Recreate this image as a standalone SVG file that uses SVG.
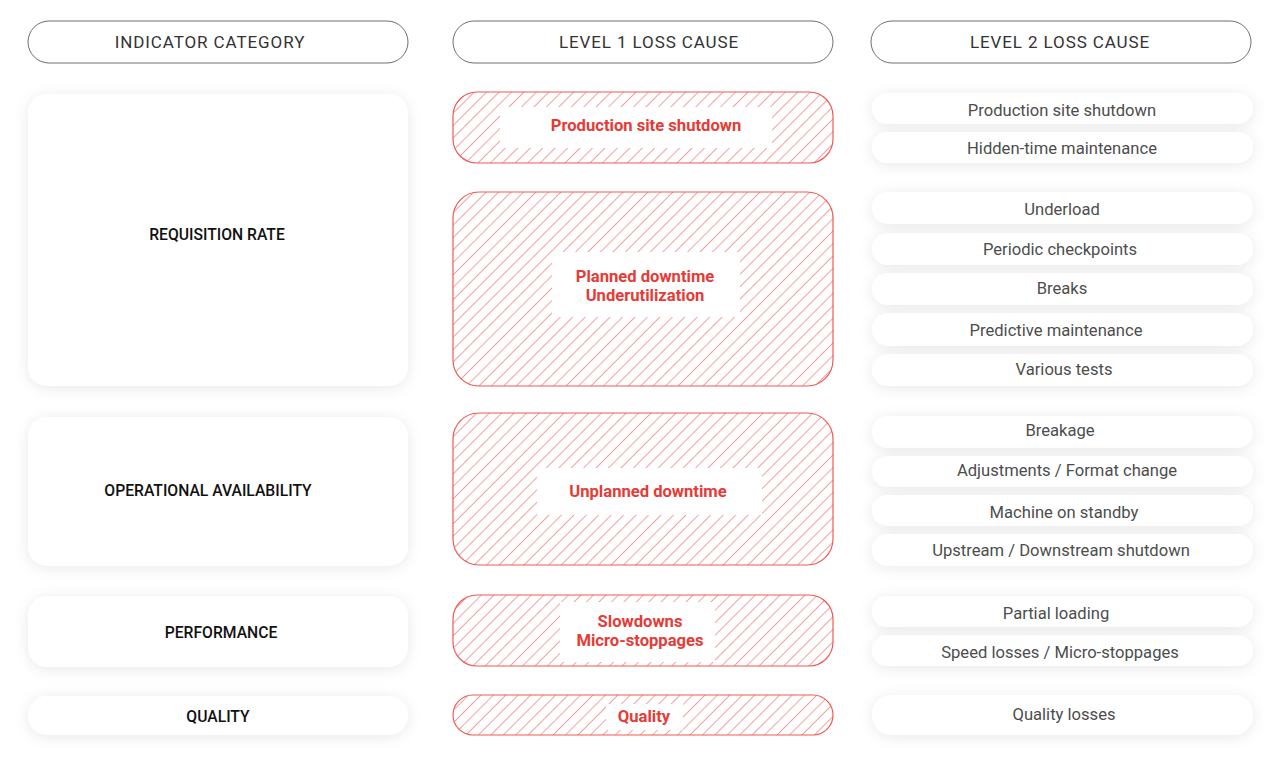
<svg xmlns="http://www.w3.org/2000/svg" width="1280" height="757" viewBox="0 0 1280 757">
<defs>
<pattern id="hatch" patternUnits="userSpaceOnUse" width="8.8" height="10" patternTransform="rotate(45)">
<line x1="4.4" y1="0" x2="4.4" y2="10" stroke="#f39591" stroke-width="0.9"/>
</pattern>
<filter id="sh" x="-20%" y="-40%" width="140%" height="180%">
<feDropShadow dx="0" dy="2" stdDeviation="7" flood-color="#000" flood-opacity="0.09"/>
</filter>
<style>
.hdr{fill:#fff;stroke:#6f6f6a;stroke-width:1}
.hdrt{font-family:Roboto,"Liberation Sans",sans-serif;font-size:17px;fill:#333;letter-spacing:0.9px;text-anchor:middle;dominant-baseline:central}
.cat{fill:#fff;filter:url(#sh)}
.catt{font-family:Roboto,"Liberation Sans",sans-serif;font-size:15.7px;font-weight:500;fill:#111;text-anchor:middle;dominant-baseline:central}
.l1{fill:url(#hatch);stroke:#ee5a55;stroke-width:1.2}
.mask{fill:#fff}
.l1t{font-family:Roboto,"Liberation Sans",sans-serif;font-size:16.6px;font-weight:700;fill:#e63b36;text-anchor:middle;dominant-baseline:central}
.l2{fill:#fff;filter:url(#sh)}
.l2t{font-family:Roboto,"Liberation Sans",sans-serif;font-size:16.6px;fill:#4d4d4d;text-anchor:middle;dominant-baseline:central}
</style>
</defs>
<rect width="1280" height="757" fill="#fff"/>

<g id="headers">
<g id="h-indicator"><rect class="hdr" x="28" y="21" width="380" height="42" rx="21"/><text class="hdrt" x="210" y="42">INDICATOR CATEGORY</text></g>
<g id="h-level1"><rect class="hdr" x="453" y="21" width="380" height="42" rx="21"/><text class="hdrt" x="649" y="42">LEVEL 1 LOSS CAUSE</text></g>
<g id="h-level2"><rect class="hdr" x="871" y="21" width="380" height="42" rx="21"/><text class="hdrt" x="1060" y="42">LEVEL 2 LOSS CAUSE</text></g>
</g>

<g id="categories">
<g id="c-requisition"><rect class="cat" x="28" y="94" width="380" height="292" rx="20"/><text class="catt" x="217" y="234">REQUISITION RATE</text></g>
<g id="c-operational"><rect class="cat" x="28" y="417" width="380" height="149" rx="20"/><text class="catt" x="208" y="490">OPERATIONAL AVAILABILITY</text></g>
<g id="c-performance"><rect class="cat" x="28" y="596" width="380" height="71" rx="20"/><text class="catt" x="221" y="632">PERFORMANCE</text></g>
<g id="c-quality"><rect class="cat" x="28" y="696" width="380" height="39" rx="19.5"/><text class="catt" x="218" y="716">QUALITY</text></g>
</g>

<g id="level1">
<g id="l1-shutdown"><rect class="l1" x="453" y="92" width="380" height="71" rx="24"/><rect class="mask" x="500" y="107" width="272" height="41"/><text class="l1t" x="646" y="125">Production site shutdown</text></g>
<g id="l1-planned"><rect class="l1" x="453" y="192" width="380" height="194" rx="26"/><rect class="mask" x="552" y="252" width="188" height="65"/><text class="l1t" x="645" y="276">Planned downtime</text><text class="l1t" x="645" y="295">Underutilization</text></g>
<g id="l1-unplanned"><rect class="l1" x="453" y="413" width="380" height="152" rx="26"/><rect class="mask" x="537" y="468" width="225" height="47"/><text class="l1t" x="648" y="491">Unplanned downtime</text></g>
<g id="l1-slowdowns"><rect class="l1" x="453" y="595" width="380" height="71" rx="24"/><rect class="mask" x="560" y="602" width="155" height="60"/><text class="l1t" x="640" y="621">Slowdowns</text><text class="l1t" x="640" y="640">Micro-stoppages</text></g>
<g id="l1-quality"><rect class="l1" x="453" y="695" width="380" height="40" rx="20"/><rect class="mask" x="606" y="704" width="77" height="26"/><text class="l1t" x="644" y="716">Quality</text></g>
</g>

<g id="level2">
<g id="l2-1"><rect class="l2" x="872" y="93" width="381" height="31" rx="15.5"/><text class="l2t" x="1062" y="110">Production site shutdown</text></g>
<g id="l2-2"><rect class="l2" x="872" y="132" width="381" height="31" rx="15.5"/><text class="l2t" x="1062" y="148">Hidden-time maintenance</text></g>
<g id="l2-3"><rect class="l2" x="872" y="192" width="381" height="32" rx="16"/><text class="l2t" x="1062" y="209">Underload</text></g>
<g id="l2-4"><rect class="l2" x="872" y="233" width="381" height="32" rx="16"/><text class="l2t" x="1060" y="249">Periodic checkpoints</text></g>
<g id="l2-5"><rect class="l2" x="872" y="273" width="381" height="32" rx="16"/><text class="l2t" x="1062" y="288">Breaks</text></g>
<g id="l2-6"><rect class="l2" x="872" y="313" width="381" height="33" rx="16.5"/><text class="l2t" x="1056" y="330">Predictive maintenance</text></g>
<g id="l2-7"><rect class="l2" x="872" y="354" width="381" height="32" rx="16"/><text class="l2t" x="1064" y="369">Various tests</text></g>
<g id="l2-8"><rect class="l2" x="872" y="416" width="381" height="32" rx="16"/><text class="l2t" x="1060" y="430">Breakage</text></g>
<g id="l2-9"><rect class="l2" x="872" y="456" width="381" height="31" rx="15.5"/><text class="l2t" x="1067" y="470">Adjustments / Format change</text></g>
<g id="l2-10"><rect class="l2" x="872" y="495" width="381" height="31" rx="15.5"/><text class="l2t" x="1064" y="512">Machine on standby</text></g>
<g id="l2-11"><rect class="l2" x="872" y="534" width="381" height="32" rx="16"/><text class="l2t" x="1061" y="550">Upstream / Downstream shutdown</text></g>
<g id="l2-12"><rect class="l2" x="872" y="596" width="381" height="31" rx="15.5"/><text class="l2t" x="1056" y="613">Partial loading</text></g>
<g id="l2-13"><rect class="l2" x="872" y="635" width="381" height="31" rx="15.5"/><text class="l2t" x="1060" y="652">Speed losses / Micro-stoppages</text></g>
<g id="l2-14"><rect class="l2" x="872" y="695" width="381" height="40" rx="20"/><text class="l2t" x="1064" y="714">Quality losses</text></g>
</g>

<g id="connectors"/>
</svg>
